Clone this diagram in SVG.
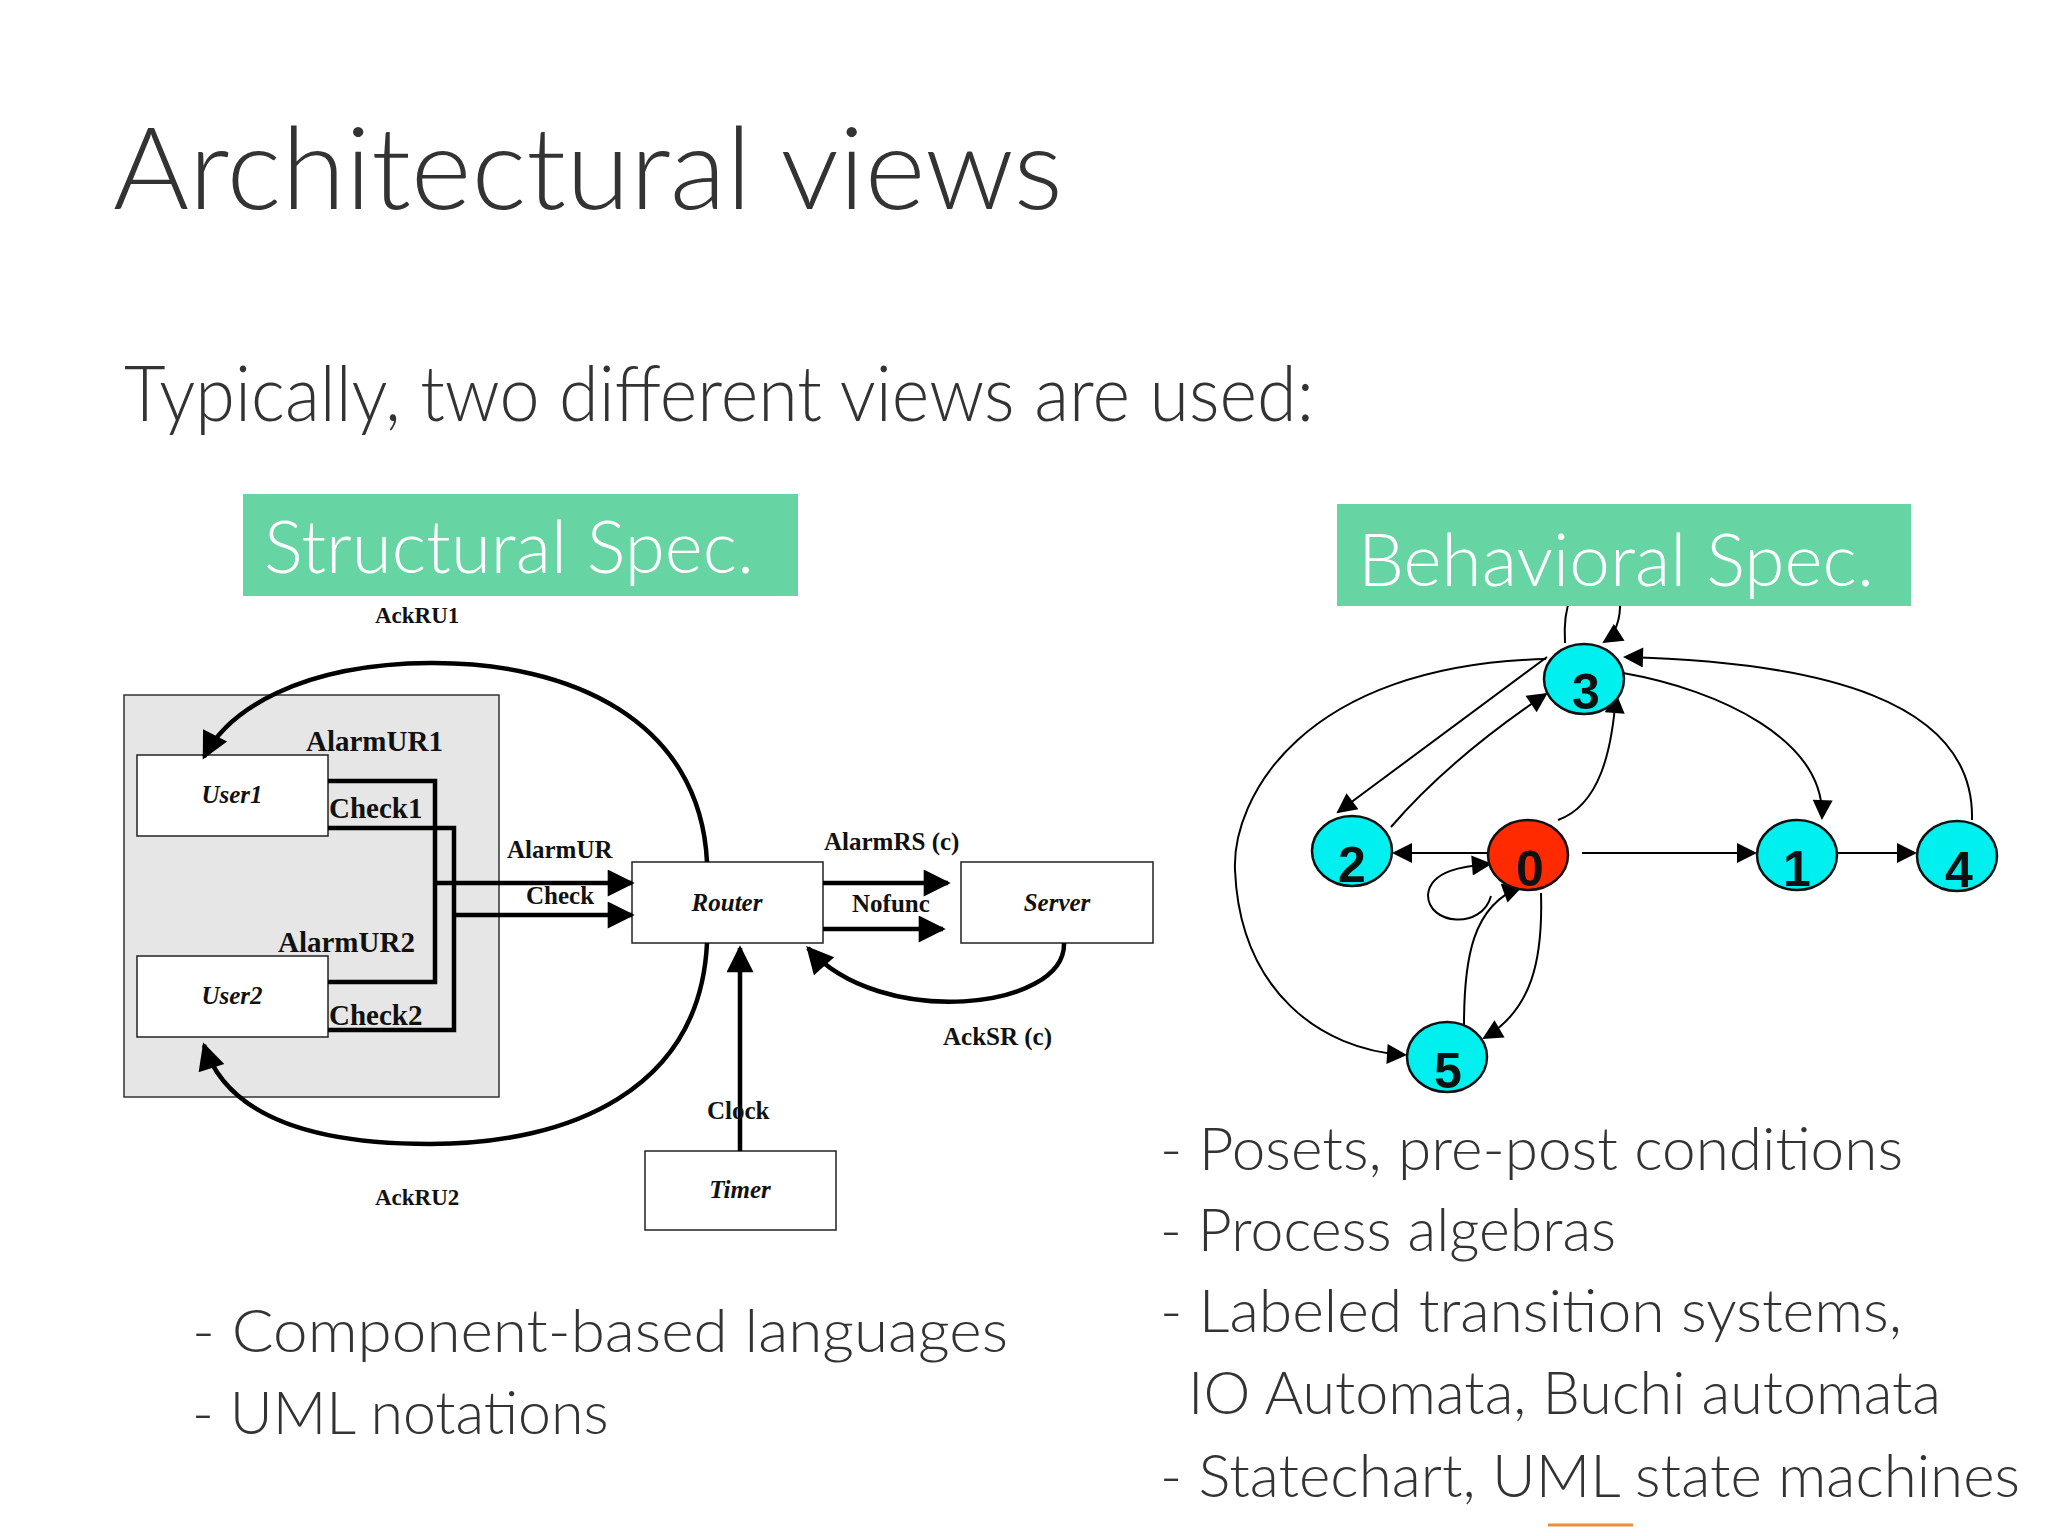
<svg xmlns="http://www.w3.org/2000/svg" width="2048" height="1536" viewBox="0 0 2048 1536">
<defs>
<style>
.t{font-family:Lato,"Open Sans",sans-serif;font-weight:300;fill:#333}
.g{fill:#66d5a3}
.w{font-family:Lato,"Open Sans",sans-serif;font-weight:300;fill:#fff}
.box{fill:#fff;stroke:#222;stroke-width:1.5}
.nm{font-family:"Liberation Serif",serif;font-style:italic;font-weight:bold;font-size:25px;fill:#111}
.lb{font-family:"Liberation Serif",serif;font-weight:bold;fill:#111}
.th{fill:none;stroke:#000;stroke-width:4.5}
.tn{fill:none;stroke:#000;stroke-width:2}
.st{stroke:#111;stroke-width:2.5}
.num{font-family:"Liberation Sans",sans-serif;font-weight:bold;font-size:50px;fill:#111}
</style>
<marker id="ab" viewBox="0 0 10 10" refX="9" refY="5" markerWidth="7" markerHeight="6" markerUnits="strokeWidth" orient="auto"><path d="M0,0L10,5L0,10z" fill="#000"/></marker>
<marker id="an" viewBox="0 0 10 10" refX="9" refY="5" markerWidth="12" markerHeight="10" markerUnits="strokeWidth" orient="auto"><path d="M0,0L10,5L0,10z" fill="#000"/></marker>
</defs>
<rect width="2048" height="1536" fill="#fff"/>
<text class="t" x="113" y="209" font-size="114" textLength="950" lengthAdjust="spacingAndGlyphs">Architectural views</text>
<text class="t" x="124" y="421" font-size="76" textLength="1190" lengthAdjust="spacingAndGlyphs">Typically, two different views are used:</text>
<rect class="g" x="243" y="494" width="555" height="102"/>
<text class="w" x="264" y="573" font-size="72" textLength="490" lengthAdjust="spacingAndGlyphs">Structural Spec.</text>

<g id="structural">
<rect x="124" y="695" width="375" height="402" fill="#e6e6e6" stroke="#333" stroke-width="1.5"/>
<g id="user1"><rect class="box" x="137" y="755" width="191" height="81"/><text class="nm" x="232" y="803" text-anchor="middle">User1</text></g>
<g id="user2"><rect class="box" x="137" y="956" width="191" height="81"/><text class="nm" x="232" y="1004" text-anchor="middle">User2</text></g>
<g id="router"><rect class="box" x="632" y="862" width="191" height="81"/><text class="nm" x="727" y="911" text-anchor="middle">Router</text></g>
<g id="server"><rect class="box" x="961" y="862" width="192" height="81"/><text class="nm" x="1057" y="911" text-anchor="middle">Server</text></g>
<g id="timer"><rect class="box" x="645" y="1151" width="191" height="79"/><text class="nm" x="740" y="1198" text-anchor="middle">Timer</text></g>
<g id="sconnectors">
<path class="th" d="M328,781H435V982H328"/>
<path class="th" d="M328,828H454V1030H328"/>
<path class="th" d="M435,883H632" marker-end="url(#ab)"/>
<path class="th" d="M454,915H632" marker-end="url(#ab)"/>
<path class="th" d="M823,883H948" marker-end="url(#ab)"/>
<path class="th" d="M823,929H943" marker-end="url(#ab)"/>
<path class="th" d="M1064,943C1066,1010 880,1030 808,948" marker-end="url(#ab)"/>
<path class="th" d="M740,1151V948" marker-end="url(#ab)"/>
<path class="th" d="M707,862C700,720 570,662 430,663C300,664 228,710 204,757" marker-end="url(#ab)"/>
<path class="th" d="M707,943C700,1090 570,1144 430,1144C300,1144 225,1110 204,1045" marker-end="url(#ab)"/>
</g>
<text class="lb" x="375" y="623" font-size="23">AckRU1</text>
<text class="lb" x="306" y="751" font-size="29">AlarmUR1</text>
<text class="lb" x="329" y="818" font-size="29">Check1</text>
<text class="lb" x="507" y="858" font-size="25">AlarmUR</text>
<text class="lb" x="526" y="904" font-size="25">Check</text>
<text class="lb" x="278" y="952" font-size="29">AlarmUR2</text>
<text class="lb" x="329" y="1025" font-size="29">Check2</text>
<text class="lb" x="824" y="850" font-size="25">AlarmRS (c)</text>
<text class="lb" x="852" y="912" font-size="25">Nofunc</text>
<text class="lb" x="943" y="1045" font-size="25">AckSR (c)</text>
<text class="lb" x="707" y="1119" font-size="25">Clock</text>
<text class="lb" x="375" y="1205" font-size="23">AckRU2</text>
</g>

<g id="behavioral">
<g id="bconnectors">
<path class="tn" d="M1565,643C1560,560 1618,560 1620,600C1621,620 1615,635 1604,642" marker-end="url(#an)"/>
<path class="tn" d="M1547,657L1338,812" marker-end="url(#an)"/>
<path class="tn" d="M1391,827C1440,770 1500,725 1546,694" marker-end="url(#an)"/>
<path class="tn" d="M1558,820C1600,805 1612,750 1616,695" marker-end="url(#an)"/>
<path class="tn" d="M1623,673C1720,690 1825,740 1822,818" marker-end="url(#an)"/>
<path class="tn" d="M1972,820C1975,700 1820,662 1625,657" marker-end="url(#an)"/>
<path class="tn" d="M1546,659C1300,665 1232,800 1235,870C1240,990 1320,1050 1405,1055" marker-end="url(#an)"/>
<path class="tn" d="M1487,853H1394" marker-end="url(#an)"/>
<path class="tn" d="M1582,853H1755" marker-end="url(#an)"/>
<path class="tn" d="M1838,853H1915" marker-end="url(#an)"/>
<path class="tn" d="M1491,896C1482,930 1428,925 1428,895C1430,870 1465,866 1490,864" marker-end="url(#an)"/>
<path class="tn" d="M1464,1025C1464,960 1472,905 1521,887" marker-end="url(#an)"/>
<path class="tn" d="M1541,893C1543,960 1532,1010 1484,1038" marker-end="url(#an)"/>
</g>
<g id="n3"><ellipse class="st" cx="1584" cy="679" rx="40" ry="35" fill="#00f0f0"/><text class="num" x="1586" y="709" text-anchor="middle">3</text></g>
<g id="n2"><ellipse class="st" cx="1352" cy="851" rx="40" ry="35" fill="#00f0f0"/><text class="num" x="1352" y="882" text-anchor="middle">2</text></g>
<g id="n0"><ellipse class="st" cx="1528" cy="855" rx="40" ry="35" fill="#ff2a00"/><text class="num" x="1530" y="886" text-anchor="middle">0</text></g>
<g id="n1"><ellipse class="st" cx="1797" cy="855" rx="40" ry="35" fill="#00f0f0"/><text class="num" x="1797" y="886" text-anchor="middle">1</text></g>
<g id="n4"><ellipse class="st" cx="1957" cy="856" rx="40" ry="35" fill="#00f0f0"/><text class="num" x="1959" y="887" text-anchor="middle">4</text></g>
<g id="n5"><ellipse class="st" cx="1447" cy="1057" rx="40" ry="35" fill="#00f0f0"/><text class="num" x="1448" y="1088" text-anchor="middle">5</text></g>
</g>
<rect class="g" x="1337" y="504" width="574" height="102"/>
<text class="w" x="1358" y="586" font-size="72" textLength="516" lengthAdjust="spacingAndGlyphs">Behavioral Spec.</text>

<text class="t" x="192" y="1352" font-size="59" textLength="816" lengthAdjust="spacingAndGlyphs">- Component-based languages</text>
<text class="t" x="192" y="1434" font-size="59">- UML notations</text>
<text class="t" x="1160" y="1170" font-size="59" textLength="743" lengthAdjust="spacingAndGlyphs">- Posets, pre-post conditions</text>
<text class="t" x="1160" y="1251" font-size="59">- Process algebras</text>
<text class="t" x="1160" y="1332" font-size="59" textLength="742" lengthAdjust="spacingAndGlyphs">- Labeled transition systems,</text>
<text class="t" x="1188" y="1414" font-size="59" textLength="753" lengthAdjust="spacingAndGlyphs">IO Automata, Buchi automata</text>
<text class="t" x="1160" y="1497" font-size="59" textLength="860" lengthAdjust="spacingAndGlyphs">- Statechart, UML state machines</text>
<line x1="1548" y1="1525" x2="1633" y2="1525" stroke="#e8913a" stroke-width="3"/>
</svg>
